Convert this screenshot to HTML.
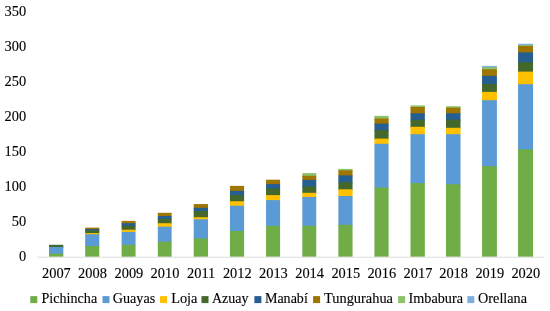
<!DOCTYPE html>
<html><head><meta charset="utf-8"><title>Chart</title>
<style>
html,body{margin:0;padding:0;background:#fff;}
body{width:550px;height:311px;overflow:hidden;}
svg{display:block;}
text{font-family:"Liberation Serif","Times New Roman",serif;fill:#000;stroke:#000;stroke-width:0.12px;}
.t{font-size:14.4px;}
.l{font-size:15.3px;}
</style></head><body>
<svg width="550" height="311" viewBox="0 0 550 311">
<rect width="550" height="311" fill="#fff"/>
<text class="t" x="26.2" y="261.0" text-anchor="end">0</text>
<text class="t" x="26.2" y="226.0" text-anchor="end">50</text>
<text class="t" x="26.2" y="191.0" text-anchor="end">100</text>
<text class="t" x="26.2" y="156.0" text-anchor="end">150</text>
<text class="t" x="26.2" y="121.0" text-anchor="end">200</text>
<text class="t" x="26.2" y="86.0" text-anchor="end">250</text>
<text class="t" x="26.2" y="51.0" text-anchor="end">300</text>
<text class="t" x="26.2" y="16.0" text-anchor="end">350</text>
<rect x="49.00" y="244.80" width="14.30" height="3.20" fill="#43682B"/>
<rect x="49.00" y="247.00" width="14.30" height="7.60" fill="#5B9BD5"/>
<rect x="49.00" y="253.60" width="14.30" height="3.20" fill="#70AD47"/>
<text class="t" x="56.4" y="278.1" text-anchor="middle">2007</text>
<rect x="85.20" y="227.60" width="14.10" height="2.50" fill="#9E7500"/>
<rect x="85.20" y="229.10" width="14.10" height="2.30" fill="#255E91"/>
<rect x="85.20" y="230.40" width="14.10" height="3.70" fill="#43682B"/>
<rect x="85.20" y="233.10" width="14.10" height="2.20" fill="#FFC000"/>
<rect x="85.20" y="234.30" width="14.10" height="12.70" fill="#5B9BD5"/>
<rect x="85.20" y="246.00" width="14.10" height="10.80" fill="#70AD47"/>
<text class="t" x="92.5" y="278.1" text-anchor="middle">2008</text>
<rect x="121.60" y="220.90" width="13.95" height="3.30" fill="#9E7500"/>
<rect x="121.60" y="223.20" width="13.95" height="3.50" fill="#255E91"/>
<rect x="121.60" y="225.70" width="13.95" height="5.00" fill="#43682B"/>
<rect x="121.60" y="229.70" width="13.95" height="3.20" fill="#FFC000"/>
<rect x="121.60" y="231.90" width="13.95" height="13.90" fill="#5B9BD5"/>
<rect x="121.60" y="244.80" width="13.95" height="12.00" fill="#70AD47"/>
<text class="t" x="128.9" y="278.1" text-anchor="middle">2009</text>
<rect x="157.80" y="212.80" width="13.80" height="4.20" fill="#9E7500"/>
<rect x="157.80" y="216.00" width="13.80" height="3.80" fill="#255E91"/>
<rect x="157.80" y="218.80" width="13.80" height="5.40" fill="#43682B"/>
<rect x="157.80" y="223.20" width="13.80" height="4.50" fill="#FFC000"/>
<rect x="157.80" y="226.70" width="13.80" height="15.90" fill="#5B9BD5"/>
<rect x="157.80" y="241.60" width="13.80" height="15.20" fill="#70AD47"/>
<text class="t" x="165.0" y="278.1" text-anchor="middle">2010</text>
<rect x="193.70" y="204.07" width="14.30" height="4.73" fill="#9E7500"/>
<rect x="193.70" y="207.80" width="14.30" height="4.20" fill="#255E91"/>
<rect x="193.70" y="211.00" width="14.30" height="7.20" fill="#43682B"/>
<rect x="193.70" y="217.20" width="14.30" height="3.05" fill="#FFC000"/>
<rect x="193.70" y="219.25" width="14.30" height="20.15" fill="#5B9BD5"/>
<rect x="193.70" y="238.40" width="14.30" height="18.40" fill="#70AD47"/>
<text class="t" x="201.2" y="278.1" text-anchor="middle">2011</text>
<rect x="229.95" y="185.90" width="14.15" height="6.00" fill="#9E7500"/>
<rect x="229.95" y="190.90" width="14.15" height="5.16" fill="#255E91"/>
<rect x="229.95" y="195.06" width="14.15" height="7.14" fill="#43682B"/>
<rect x="229.95" y="201.20" width="14.15" height="5.50" fill="#FFC000"/>
<rect x="229.95" y="205.70" width="14.15" height="26.30" fill="#5B9BD5"/>
<rect x="229.95" y="231.00" width="14.15" height="25.80" fill="#70AD47"/>
<text class="t" x="237.3" y="278.1" text-anchor="middle">2012</text>
<rect x="266.05" y="179.70" width="14.05" height="5.40" fill="#9E7500"/>
<rect x="266.05" y="184.10" width="14.05" height="5.50" fill="#255E91"/>
<rect x="266.05" y="188.60" width="14.05" height="7.50" fill="#43682B"/>
<rect x="266.05" y="195.10" width="14.05" height="6.00" fill="#FFC000"/>
<rect x="266.05" y="200.10" width="14.05" height="26.70" fill="#5B9BD5"/>
<rect x="266.05" y="225.80" width="14.05" height="31.00" fill="#70AD47"/>
<text class="t" x="273.4" y="278.1" text-anchor="middle">2013</text>
<rect x="302.30" y="173.10" width="13.95" height="3.70" fill="#8CC168"/>
<rect x="302.30" y="175.80" width="13.95" height="5.10" fill="#9E7500"/>
<rect x="302.30" y="179.90" width="13.95" height="7.50" fill="#255E91"/>
<rect x="302.30" y="186.40" width="13.95" height="7.40" fill="#43682B"/>
<rect x="302.30" y="192.80" width="13.95" height="5.20" fill="#FFC000"/>
<rect x="302.30" y="197.00" width="13.95" height="29.80" fill="#5B9BD5"/>
<rect x="302.30" y="225.80" width="13.95" height="31.00" fill="#70AD47"/>
<text class="t" x="309.6" y="278.1" text-anchor="middle">2014</text>
<rect x="338.35" y="168.90" width="14.20" height="2.50" fill="#8CC168"/>
<rect x="338.35" y="170.40" width="14.20" height="6.00" fill="#9E7500"/>
<rect x="338.35" y="175.40" width="14.20" height="7.80" fill="#255E91"/>
<rect x="338.35" y="182.20" width="14.20" height="8.10" fill="#43682B"/>
<rect x="338.35" y="189.30" width="14.20" height="7.70" fill="#FFC000"/>
<rect x="338.35" y="196.00" width="14.20" height="29.80" fill="#5B9BD5"/>
<rect x="338.35" y="224.80" width="14.20" height="32.00" fill="#70AD47"/>
<text class="t" x="345.8" y="278.1" text-anchor="middle">2015</text>
<rect x="374.45" y="115.85" width="14.15" height="3.65" fill="#8CC168"/>
<rect x="374.45" y="118.50" width="14.15" height="6.10" fill="#9E7500"/>
<rect x="374.45" y="123.60" width="14.15" height="7.50" fill="#255E91"/>
<rect x="374.45" y="130.10" width="14.15" height="9.50" fill="#43682B"/>
<rect x="374.45" y="138.60" width="14.15" height="6.20" fill="#FFC000"/>
<rect x="374.45" y="143.80" width="14.15" height="44.70" fill="#5B9BD5"/>
<rect x="374.45" y="187.50" width="14.15" height="69.30" fill="#70AD47"/>
<text class="t" x="381.8" y="278.1" text-anchor="middle">2016</text>
<rect x="410.50" y="105.40" width="14.35" height="2.60" fill="#8CC168"/>
<rect x="410.50" y="107.00" width="14.35" height="7.30" fill="#9E7500"/>
<rect x="410.50" y="113.30" width="14.35" height="7.40" fill="#255E91"/>
<rect x="410.50" y="119.70" width="14.35" height="8.10" fill="#43682B"/>
<rect x="410.50" y="126.80" width="14.35" height="8.40" fill="#FFC000"/>
<rect x="410.50" y="134.20" width="14.35" height="49.90" fill="#5B9BD5"/>
<rect x="410.50" y="183.10" width="14.35" height="73.70" fill="#70AD47"/>
<text class="t" x="418.0" y="278.1" text-anchor="middle">2017</text>
<rect x="446.00" y="106.20" width="14.50" height="2.50" fill="#8CC168"/>
<rect x="446.00" y="107.70" width="14.50" height="6.60" fill="#9E7500"/>
<rect x="446.00" y="113.30" width="14.50" height="7.40" fill="#255E91"/>
<rect x="446.00" y="119.70" width="14.50" height="9.10" fill="#43682B"/>
<rect x="446.00" y="127.80" width="14.50" height="7.40" fill="#FFC000"/>
<rect x="446.00" y="134.20" width="14.50" height="51.00" fill="#5B9BD5"/>
<rect x="446.00" y="184.20" width="14.50" height="72.60" fill="#70AD47"/>
<text class="t" x="453.6" y="278.1" text-anchor="middle">2018</text>
<rect x="482.05" y="65.90" width="14.85" height="2.40" fill="#7CAFDD"/>
<rect x="482.05" y="67.30" width="14.85" height="3.00" fill="#8CC168"/>
<rect x="482.05" y="69.30" width="14.85" height="7.50" fill="#9E7500"/>
<rect x="482.05" y="75.80" width="14.85" height="9.10" fill="#255E91"/>
<rect x="482.05" y="83.90" width="14.85" height="9.00" fill="#43682B"/>
<rect x="482.05" y="91.90" width="14.85" height="9.30" fill="#FFC000"/>
<rect x="482.05" y="100.20" width="14.85" height="67.00" fill="#5B9BD5"/>
<rect x="482.05" y="166.20" width="14.85" height="90.60" fill="#70AD47"/>
<text class="t" x="489.8" y="278.1" text-anchor="middle">2019</text>
<rect x="518.05" y="43.80" width="15.00" height="2.30" fill="#7CAFDD"/>
<rect x="518.05" y="45.10" width="15.00" height="1.90" fill="#8CC168"/>
<rect x="518.05" y="46.00" width="15.00" height="7.40" fill="#9E7500"/>
<rect x="518.05" y="52.40" width="15.00" height="10.80" fill="#255E91"/>
<rect x="518.05" y="62.20" width="15.00" height="10.40" fill="#43682B"/>
<rect x="518.05" y="71.60" width="15.00" height="13.60" fill="#FFC000"/>
<rect x="518.05" y="84.20" width="15.00" height="66.10" fill="#5B9BD5"/>
<rect x="518.05" y="149.30" width="15.00" height="107.50" fill="#70AD47"/>
<text class="t" x="525.8" y="278.1" text-anchor="middle">2020</text>
<rect x="37.7" y="256.75" width="506.3" height="0.9" fill="#D9D9D9"/>
<rect x="30.3" y="296.1" width="7" height="7" fill="#70AD47"/>
<text class="l" x="41.5" y="303.3" textLength="55.7" lengthAdjust="spacingAndGlyphs">Pichincha</text>
<rect x="102.5" y="296.1" width="7" height="7" fill="#5B9BD5"/>
<text class="l" x="112.8" y="303.3" textLength="42.4" lengthAdjust="spacingAndGlyphs">Guayas</text>
<rect x="160.0" y="296.1" width="7" height="7" fill="#FFC000"/>
<text class="l" x="171.2" y="303.3" textLength="26.3" lengthAdjust="spacingAndGlyphs">Loja</text>
<rect x="201.5" y="296.1" width="7" height="7" fill="#43682B"/>
<text class="l" x="211.9" y="303.3" textLength="36.6" lengthAdjust="spacingAndGlyphs">Azuay</text>
<rect x="254.4" y="296.1" width="7" height="7" fill="#255E91"/>
<text class="l" x="264.9" y="303.3" textLength="42.9" lengthAdjust="spacingAndGlyphs">Manabí</text>
<rect x="313.1" y="296.1" width="7" height="7" fill="#9E7500"/>
<text class="l" x="324.0" y="303.3" textLength="69.0" lengthAdjust="spacingAndGlyphs">Tungurahua</text>
<rect x="398.1" y="296.1" width="7" height="7" fill="#8CC168"/>
<text class="l" x="408.5" y="303.3" textLength="54.5" lengthAdjust="spacingAndGlyphs">Imbabura</text>
<rect x="467.3" y="296.1" width="7" height="7" fill="#7CAFDD"/>
<text class="l" x="478.1" y="303.3" textLength="48.9" lengthAdjust="spacingAndGlyphs">Orellana</text>
</svg></body></html>
